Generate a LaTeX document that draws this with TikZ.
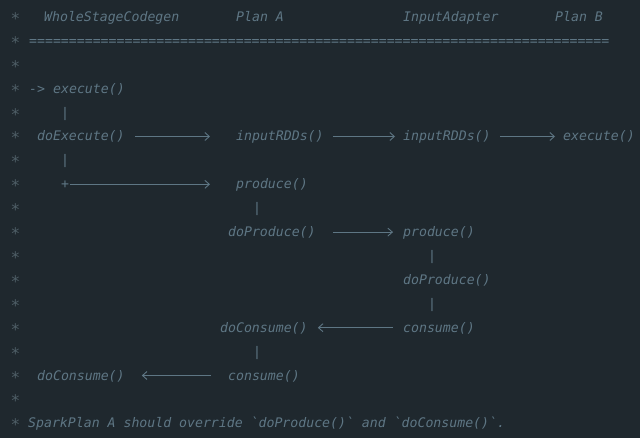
\documentclass[tikz,border=0pt]{standalone}
\usepackage{fontspec}
\newfontfamily\codefont{DejaVu Sans Mono}
\usetikzlibrary{arrows.meta}
\definecolor{bg}{HTML}{1F282E}
\definecolor{star}{HTML}{4F5F67}
\definecolor{code}{HTML}{5E7684}
\begin{document}
\begin{tikzpicture}[x=1pt,y=-1pt,
  txt/.style={anchor=base west,inner sep=0pt,text=code,font=\codefont\itshape\fontsize{13.2}{15}\selectfont},
  ast/.style={anchor=base west,inner sep=0pt,text=star,font=\codefont\fontsize{16}{18}\selectfont},
  conn/.style={draw=code,line width=0.8pt,-{Straight Barb[length=4.5pt,width=8pt,line width=0.9pt]}}]
\fill[bg] (0,0) rectangle (640,438);
\useasboundingbox (0,0) rectangle (640,438);
% asterisk column
\foreach \r [count=\i] in {0,...,17} {
  \node[ast] (s\i) at (10.5,{24.5+23.9*\r}) {*};
}
% row 0 headers
\node[txt] (hW) at (44,21.5) {WholeStageCodegen};
\node[txt] (hA) at (236,21.5) {Plan A};
\node[txt] (hI) at (403,21.5) {InputAdapter};
\node[txt] (hB) at (555,21.5) {Plan B};
% row 1 rule
\node[txt] (rule) at (29,45.4) {=========================================================================};
% row 3
\node[txt] (arr) at (29,93.2) {->};
\node[txt] (exec) at (53,93.2) {execute()};
\node[txt] (b1) at (61,117.1) {|};
% row 5
\node[txt] (doExec) at (37,141) {doExecute()};
\node[txt] (rdd1) at (236,141) {inputRDDs()};
\node[txt] (rdd2) at (403,141) {inputRDDs()};
\node[txt] (execB) at (563,141) {execute()};
\draw[conn] ([xshift=10pt,yshift=4.5pt]doExec.base east) -- ([xshift=-26pt,yshift=4.5pt]rdd1.base west);
\draw[conn] ([xshift=9pt,yshift=4.5pt]rdd1.base east) -- ([xshift=-8pt,yshift=4.5pt]rdd2.base west);
\draw[conn] ([xshift=9pt,yshift=4.5pt]rdd2.base east) -- ([xshift=-8pt,yshift=4.5pt]execB.base west);
% row 6-7
\node[txt] (b2) at (61,164.9) {|};
\node[txt] (plus) at (61,188.8) {+};
\node[txt] (prodA) at (236,188.8) {produce()};
\draw[conn] ([xshift=1pt,yshift=4.5pt]plus.base east) -- ([xshift=-26pt,yshift=4.5pt]prodA.base west);
% row 8-9
\node[txt] (b3) at (253,212.7) {|};
\node[txt] (doProdA) at (228,236.6) {doProduce()};
\node[txt] (prodI) at (403,236.6) {produce()};
\draw[conn] ([xshift=17pt,yshift=4.5pt]doProdA.base east) -- ([xshift=-10pt,yshift=4.5pt]prodI.base west);
% row 10-12
\node[txt] (b4) at (428,260.5) {|};
\node[txt] (doProdI) at (403,284.4) {doProduce()};
\node[txt] (b5) at (428,308.3) {|};
% row 13
\node[txt] (doConsA) at (220,332.2) {doConsume()};
\node[txt] (consI) at (403,332.2) {consume()};
\draw[conn] ([xshift=-10pt,yshift=4.5pt]consI.base west) -- ([xshift=10pt,yshift=4.5pt]doConsA.base east);
% row 14-15
\node[txt] (b6) at (253,356.1) {|};
\node[txt] (doConsW) at (37,380) {doConsume()};
\node[txt] (consA) at (228,380) {consume()};
\draw[conn] ([xshift=-17pt,yshift=4.5pt]consA.base west) -- ([xshift=17pt,yshift=4.5pt]doConsW.base east);
% row 17
\node[txt] (note) at (28,427.8) {SparkPlan A should override `doProduce()` and `doConsume()`.};
\end{tikzpicture}
\end{document}
